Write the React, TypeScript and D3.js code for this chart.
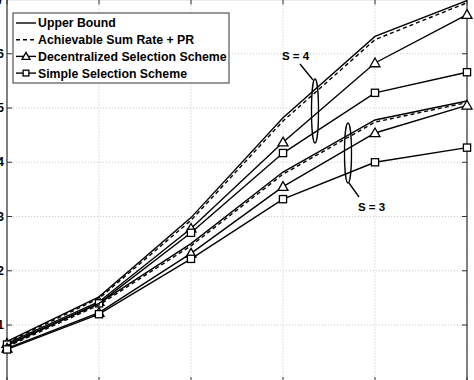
import React from "react";
import * as d3 from "d3";

const xTicks = [0, 1, 2, 3, 4, 5];
const yTicks = [1, 2, 3, 4, 5, 6, 7];

// S = 4
const ub4 = [0.70, 1.52, 2.98, 4.82, 6.32, 6.98];
const ach4 = [0.68, 1.49, 2.93, 4.76, 6.26, 6.94];
const dss4 = [0.66, 1.43, 2.78, 4.37, 5.83, 6.72];
const sss4 = [0.64, 1.40, 2.70, 4.17, 5.28, 5.66];
// S = 3
const ub3 = [0.62, 1.40, 2.50, 3.82, 4.78, 5.13];
const ach3 = [0.60, 1.37, 2.46, 3.78, 4.74, 5.10];
const dss3 = [0.57, 1.23, 2.32, 3.55, 4.54, 5.05];
const sss3 = [0.55, 1.20, 2.22, 3.32, 4.00, 4.27];

const legendItems = [
  { label: "Upper Bound", dash: "", marker: "none" },
  { label: "Achievable Sum Rate + PR", dash: "4,3", marker: "none" },
  { label: "Decentralized Selection Scheme", dash: "", marker: "tri" },
  { label: "Simple Selection Scheme", dash: "", marker: "sq" },
];

const series = [
  { values: ub4, dash: "", marker: "none" },
  { values: ach4, dash: "4,3", marker: "none" },
  { values: dss4, dash: "", marker: "tri" },
  { values: sss4, dash: "", marker: "sq" },
  { values: ub3, dash: "", marker: "none" },
  { values: ach3, dash: "4,3", marker: "none" },
  { values: dss3, dash: "", marker: "tri" },
  { values: sss3, dash: "", marker: "sq" },
];

const W = 474;
const H = 380;
const left = 7;
const right = 467;
const top = -0.5;
const bottom = 382;

function Marker({ type, x, y, s = 1 }: { type: string; x: number; y: number; s?: number }) {
  if (type === "tri") {
    const r = 5 * s;
    return (
      <path
        d={`M${x},${y - r}L${x + r},${y + r * 0.75}L${x - r},${y + r * 0.75}Z`}
        fill="white"
        stroke="black"
        strokeWidth={1.3}
      />
    );
  }
  if (type === "sq") {
    const r = 3.6 * s;
    return (
      <rect x={x - r} y={y - r} width={2 * r} height={2 * r} fill="white" stroke="black" strokeWidth={1.3} />
    );
  }
  return null;
}

export default function App() {
  const x = d3.scaleLinear().domain([0, 5]).range([left, right]);
  const y = d3.scaleLinear().domain([-0.05, 7]).range([bottom, top]);
  const line = d3
    .line<number>()
    .x((_, i) => x(i))
    .y((d) => y(d));

  const font = "'Liberation Sans Narrow', 'Liberation Sans', Arial, sans-serif";

  return (
    <svg
      width={W}
      height={H}
      style={{ position: "absolute", left: 0, top: 0, background: "white" }}
      fontFamily={font}
    >
      <rect x={0} y={0} width={W} height={H} fill="white" />
      {/* grid */}
      {xTicks.map((t) => (
        <line key={"gx" + t} x1={x(t)} x2={x(t)} y1={top} y2={bottom} stroke="#bbb" strokeWidth={0.8} strokeDasharray="1,2" />
      ))}
      {yTicks.map((t) => (
        <line key={"gy" + t} x1={left} x2={right} y1={y(t)} y2={y(t)} stroke="#bbb" strokeWidth={0.8} strokeDasharray="1,2" />
      ))}
      {/* ticks */}
      {xTicks.map((t) => (
        <g key={"tx" + t}>
          <line x1={x(t)} x2={x(t)} y1={bottom} y2={bottom - 5} stroke="#333" strokeWidth={1} />
          <line x1={x(t)} x2={x(t)} y1={top} y2={top + 5} stroke="#333" strokeWidth={1} />
        </g>
      ))}
      {yTicks.map((t) => (
        <g key={"ty" + t}>
          <line x1={left} x2={left + 5} y1={y(t)} y2={y(t)} stroke="#333" strokeWidth={1} />
          <line x1={right} x2={right - 5} y1={y(t)} y2={y(t)} stroke="#333" strokeWidth={1} />
          <text x={4} y={y(t)} dy="0.35em" textAnchor="end" fontSize={12} fontWeight="bold" fill="black">
            {t}
          </text>
        </g>
      ))}
      {/* axes box */}
      <rect x={left} y={top} width={right - left} height={bottom - top} fill="none" stroke="#333" strokeWidth={1.2} />

      {/* series */}
      {series.map((s, i) => (
        <g key={"s" + i}>
          <path d={line(s.values) || ""} fill="none" stroke="black" strokeWidth={1.4} strokeDasharray={s.dash} />
          {s.values.map((v, j) => (
            <Marker key={j} type={s.marker} x={x(j)} y={y(v)} />
          ))}
        </g>
      ))}

      {/* annotations */}
      <ellipse cx={315} cy={111} rx={3.5} ry={32} fill="none" stroke="black" strokeWidth={1.3} />
      <line x1={313} y1={80} x2={300} y2={64} stroke="black" strokeWidth={1.3} />
      <text x={282} y={60} fontSize={11.5} fontWeight="bold" fill="black">S = 4</text>
      <ellipse cx={348} cy={153} rx={3.5} ry={30} fill="none" stroke="black" strokeWidth={1.3} />
      <line x1={349} y1={183} x2={359} y2={197} stroke="black" strokeWidth={1.3} />
      <text x={358} y={211} fontSize={11.5} fontWeight="bold" fill="black">S = 3</text>

      {/* legend */}
      <rect x={13} y={13} width={216} height={70} fill="white" stroke="#333" strokeWidth={1} />
      {legendItems.map((it, i) => {
        const cy = 23 + i * 16.7;
        return (
          <g key={"l" + i}>
            <line x1={16} x2={36} y1={cy} y2={cy} stroke="black" strokeWidth={1.4} strokeDasharray={it.dash} />
            <Marker type={it.marker} x={26} y={cy} s={0.8} />
            <text x={38} y={cy} dy="0.36em" fontSize={12.3} fontWeight="bold" fill="black">
              {it.label}
            </text>
          </g>
        );
      })}
    </svg>
  );
}
